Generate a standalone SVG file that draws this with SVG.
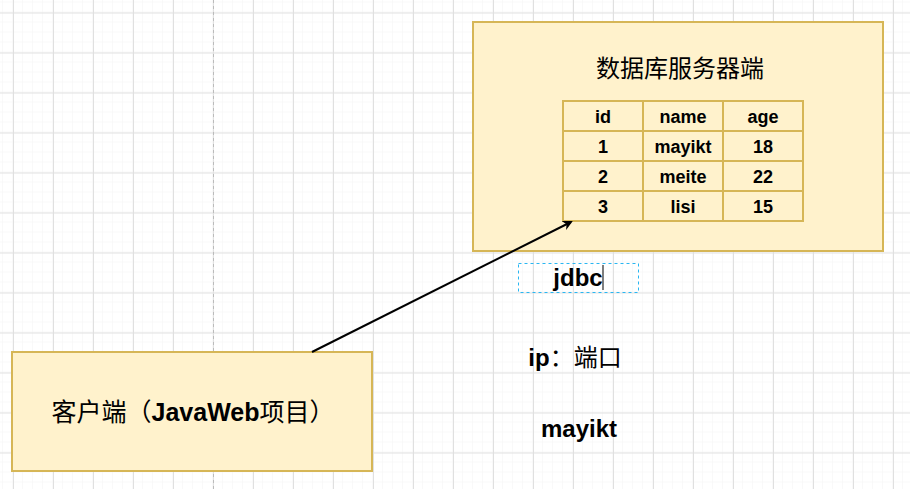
<svg xmlns="http://www.w3.org/2000/svg" width="910" height="489" viewBox="0 0 910 489">
<defs>
<pattern id="minor" width="10" height="10" patternUnits="userSpaceOnUse" x="3" y="2.5"><path d="M10 0V10M0 10H10" fill="none" stroke="#f3f3f3" stroke-width="1"/></pattern>
<pattern id="major" width="40" height="40" patternUnits="userSpaceOnUse" x="13" y="12.5"><path d="M0.5 0V40M0 0.5H40" fill="none" stroke="#e0e0e0" stroke-width="1"/></pattern>
<marker id="ah" markerWidth="10" markerHeight="10" refX="8" refY="5" orient="auto" markerUnits="userSpaceOnUse"><path d="M0 0L10 5L0 10L3 5Z" fill="#000"/></marker>
</defs>
<style>
.box{fill:#fff2cc;stroke:#d6b656;stroke-width:2}
.cell{fill:#fff2cc;stroke:#d6b656;stroke-width:2}
.t{font-family:"Liberation Sans",Arial,sans-serif;font-size:18px;text-anchor:middle;fill:#000;font-weight:bold}
.big{font-size:24px}
.cjk{font-family:"Liberation Serif","Noto Sans CJK SC",serif;text-anchor:middle;fill:#000}
</style>
<rect width="910" height="489" fill="#fff"/>
<rect width="910" height="489" fill="url(#minor)"/>
<rect width="910" height="489" fill="url(#major)"/>
<line x1="213.5" y1="0" x2="213.5" y2="489" stroke="#bbb" stroke-dasharray="3 3"/>
<g id="server">
<rect class="box" x="473" y="22" width="410" height="229"/>
<text class="cjk" x="680" y="77" style="font-size:24px">数据库服务器端</text>
</g>
<g id="table">
<rect class="cell" x="563" y="101" width="80" height="30"/><rect class="cell" x="643" y="101" width="80" height="30"/><rect class="cell" x="723" y="101" width="80" height="30"/>
<rect class="cell" x="563" y="131" width="80" height="30"/><rect class="cell" x="643" y="131" width="80" height="30"/><rect class="cell" x="723" y="131" width="80" height="30"/>
<rect class="cell" x="563" y="161" width="80" height="30"/><rect class="cell" x="643" y="161" width="80" height="30"/><rect class="cell" x="723" y="161" width="80" height="30"/>
<rect class="cell" x="563" y="191" width="80" height="30"/><rect class="cell" x="643" y="191" width="80" height="30"/><rect class="cell" x="723" y="191" width="80" height="30"/>
<text class="t" x="603" y="123">id</text><text class="t" x="683" y="123">name</text><text class="t" x="763" y="123">age</text>
<text class="t" x="603" y="153">1</text><text class="t" x="683" y="153">mayikt</text><text class="t" x="763" y="153">18</text>
<text class="t" x="603" y="183">2</text><text class="t" x="683" y="183">meite</text><text class="t" x="763" y="183">22</text>
<text class="t" x="603" y="213">3</text><text class="t" x="683" y="213">lisi</text><text class="t" x="763" y="213">15</text>
</g>
<g id="client">
<rect class="box" x="12" y="352" width="360" height="119"/>
<text x="193" y="421" text-anchor="middle" style="font-size:25px"><tspan font-family="Liberation Serif,Noto Sans CJK SC,serif">客户端（</tspan><tspan font-family="Liberation Sans,sans-serif" font-weight="bold">JavaWeb</tspan><tspan font-family="Liberation Serif,Noto Sans CJK SC,serif">项目）</tspan></text>
</g>
<g id="connectors">
<line x1="312" y1="352" x2="571" y2="222" stroke="#000" stroke-width="2" marker-end="url(#ah)"/>
</g>
<g id="jdbc">
<rect x="518.5" y="263.5" width="120" height="29" fill="none" stroke="#29b6f2" stroke-dasharray="3 3"/>
<text class="t big" x="578" y="286">jdbc</text>
<line x1="603" y1="265" x2="603" y2="290" stroke="#000"/>
</g>
<g id="ip"><text x="575" y="366" text-anchor="middle" style="font-size:24px"><tspan font-family="Liberation Sans,sans-serif" font-weight="bold">ip</tspan><tspan font-family="Liberation Serif,Noto Sans CJK SC,serif">：端口</tspan></text></g>
<g id="mayikt"><text class="t big" x="579" y="437">mayikt</text></g>
</svg>
